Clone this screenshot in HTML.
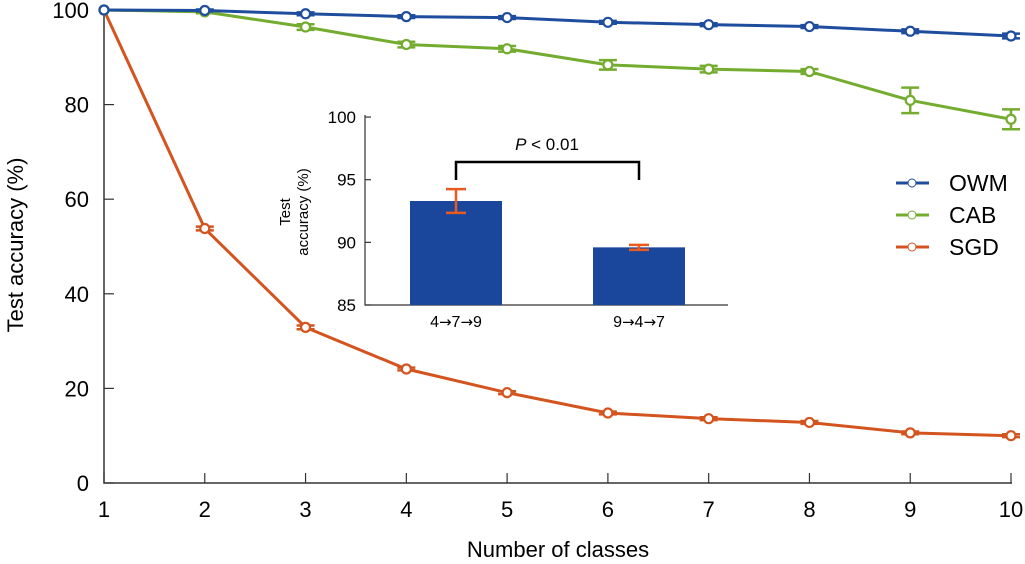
<!DOCTYPE html>
<html><head><meta charset="utf-8"><style>
body{margin:0;background:#fff;}
svg{display:block;font-family:"Liberation Sans",sans-serif;}
</style></head><body>
<svg id="c" width="1025" height="564"></svg>
<script>
const classes=[1,2,3,4,5,6,7,8,9,10];
const owm=[100,99.9,99.2,98.6,98.4,97.4,96.9,96.5,95.5,94.5];
const owmErr=[0,0.2,0.3,0.3,0.3,0.3,0.3,0.3,0.4,0.5];
const cab=[100,99.6,96.4,92.7,91.8,88.4,87.5,87.0,80.9,76.9];
const cabErr=[0,0.3,0.6,0.6,0.6,1.0,0.7,0.5,2.7,2.1];
const sgd=[100,53.8,32.9,24.1,19.1,14.8,13.6,12.8,10.6,10.0];
const sgdErr=[0,0.4,0.4,0.3,0.3,0.3,0.3,0.3,0.3,0.3];
const yTicks=[0,20,40,60,80,100];
const insetCats=[["4","7","9"],["9","4","7"]];
const insetVals=[93.3,89.6];
const insetErr=[0.95,0.2];
const insetTicks=[85,90,95,100];

const NS="http://www.w3.org/2000/svg";
const svg=document.getElementById('c');
function mk(t,a,p){const e=document.createElementNS(NS,t);for(const k in a)e.setAttribute(k,a[k]);(p||svg).appendChild(e);return e;}
const X=v=>104+(v-1)*(1011-104)/9;
const Y=v=>483-v*4.73;
let e=mk('path',{d:`M104 5V483H1012`,fill:'none',stroke:'#333','stroke-width':1.5});

yTicks.forEach(t=>{
 let l=mk('line',{x1:104,x2:114,y1:Y(t),y2:Y(t),stroke:'#333','stroke-width':1.2});
 
 let tx=mk('text',{x:89,y:Y(t)+8,'text-anchor':'end','font-size':22});tx.textContent=t;
 
});
classes.forEach(c=>{
 let l=mk('line',{x1:X(c),x2:X(c),y1:483,y2:473,stroke:'#333','stroke-width':1.2});
 
 let tx=mk('text',{x:X(c),y:517,'text-anchor':'middle','font-size':22});tx.textContent=c;
 
});
let xt=mk('text',{x:558,y:557,'text-anchor':'middle','font-size':22});xt.textContent='Number of classes';

let yt=mk('text',{x:0,y:0,'text-anchor':'middle','font-size':22,transform:'translate(23,245) rotate(-90)'});yt.textContent='Test accuracy (%)';


function series(vals,errs,col,name){
 const g=mk('g',{});
 
 let p=mk('polyline',{points:vals.map((v,i)=>X(classes[i])+','+Y(v)).join(' '),fill:'none',stroke:col,'stroke-width':3},g);
 
 vals.forEach((v,i)=>{
  const x=X(classes[i]),er=errs[i];
  if(er>0){
   let b=mk('path',{d:`M${x} ${Y(v+er)}V${Y(v-er)}M${x-9} ${Y(v+er)}H${x+9}M${x-9} ${Y(v-er)}H${x+9}`,stroke:col,'stroke-width':2.5,fill:'none'},g);
   
  }
  let c=mk('circle',{cx:x,cy:Y(v),r:4.5,fill:'#fff',stroke:col,'stroke-width':2.2},g);
  
 });
}
series(sgd,sgdErr,'#d4541f','sgd');
series(cab,cabErr,'#74ac30','cab');
series(owm,owmErr,'#1f4d9e','owm');

[['OWM','#1f4d9e',183],['CAB','#74ac30',215],['SGD','#d4541f',247]].forEach(([n,c,y])=>{
 let l=mk('line',{x1:896,x2:929,y1:y,y2:y,stroke:c,'stroke-width':3});
 
 let ci=mk('circle',{cx:912,cy:y,r:4,fill:'#fff',stroke:c,'stroke-width':1});
 
 let t=mk('text',{x:949,y:y+8,'font-size':23});t.textContent=n;
 
});

const IY=v=>305-(v-85)*12.53;
const ix0=365, ix1=728, bw=92;
const IX=i=>456+i*183;
let ia=mk('path',{d:`M${ix0} 115V305H${ix1}`,fill:'none',stroke:'#333','stroke-width':1.2});

insetTicks.forEach(t=>{
 let l=mk('line',{x1:ix0,x2:ix0+6,y1:IY(t),y2:IY(t),stroke:'#333','stroke-width':1.2});
 
 let tx=mk('text',{x:ix0-9,y:IY(t)+6,'text-anchor':'end','font-size':17});tx.textContent=t;
 
});
let it1=mk('text',{x:0,y:0,'text-anchor':'middle','font-size':15,transform:'translate(290,212) rotate(-90)'});it1.textContent='Test';

let it2=mk('text',{x:0,y:0,'text-anchor':'middle','font-size':15,transform:'translate(308,212) rotate(-90)'});it2.textContent='accuracy (%)';

insetVals.forEach((v,i)=>{
 const cx=IX(i);
 let r=mk('rect',{x:cx-bw/2,y:IY(v),width:bw,height:305-IY(v),fill:'#1a479c'});
 
 const er=insetErr[i];
 let b=mk('path',{d:`M${cx} ${IY(v+er)}V${IY(v-er)}M${cx-10} ${IY(v+er)}H${cx+10}M${cx-10} ${IY(v-er)}H${cx+10}`,stroke:'#ea5a1e','stroke-width':2.5,fill:'none'});
 
 const a='<tspan font-family="DejaVu Sans" font-size="15">\u2192</tspan>';
 let tx=mk('text',{x:cx,y:327,'text-anchor':'middle','font-size':16});
 tx.innerHTML=insetCats[i].join(a);
 
});
let br=mk('path',{d:`M${IX(0)} 180V162H${IX(1)}V180`,fill:'none',stroke:'#000','stroke-width':2.5});

let pt=mk('text',{x:547,y:150,'text-anchor':'middle','font-size':17});
pt.innerHTML='<tspan font-style="italic">P</tspan> &lt; 0.01';

</script>
</body></html>
